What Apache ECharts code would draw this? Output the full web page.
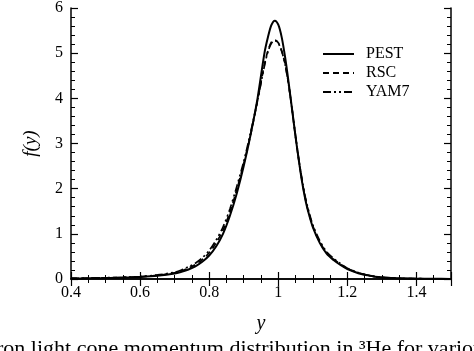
<!DOCTYPE html>
<html>
<head>
<meta charset="utf-8">
<script src="https://cdn.jsdelivr.net/npm/echarts@6/dist/echarts.min.js"></script>
<style>
  html, body { margin: 0; padding: 0; background: #fff; }
  #chart { width: 474px; height: 351px; }
</style>
</head>
<body>
<div id="chart"></div>
<script>
// light cone momentum fraction y
const yValues = [0.40, 0.45, 0.50, 0.55, 0.60, 0.65, 0.70, 0.72, 0.74, 0.76, 0.78, 0.80, 0.82, 0.84, 0.86, 0.88,
  0.90, 0.92, 0.94, 0.96, 0.97, 0.98, 0.99, 1.00, 1.01, 1.02, 1.03, 1.04, 1.05, 1.06, 1.07, 1.08, 1.09, 1.10,
  1.12, 1.14, 1.16, 1.18, 1.20, 1.22, 1.24, 1.26, 1.28, 1.30, 1.35, 1.40, 1.45, 1.50];

const pest = [0.01, 0.015, 0.02, 0.03, 0.045, 0.07, 0.12, 0.16, 0.21, 0.28, 0.38, 0.52, 0.72, 1.0, 1.4, 1.9,
  2.5, 3.2, 4.0, 5.0, 5.35, 5.62, 5.72, 5.63, 5.35, 4.9, 4.35, 3.75, 3.15, 2.6, 2.1, 1.7, 1.4, 1.15,
  0.8, 0.56, 0.42, 0.31, 0.22, 0.16, 0.11, 0.08, 0.05, 0.035, 0.015, 0.008, 0.004, 0.002];

const rsc = [0.012, 0.018, 0.025, 0.035, 0.05, 0.08, 0.135, 0.18, 0.24, 0.32, 0.43, 0.58, 0.8, 1.08, 1.48, 1.98,
  2.55, 3.2, 3.95, 4.75, 5.05, 5.24, 5.29, 5.23, 5.05, 4.75, 4.3, 3.75, 3.15, 2.6, 2.12, 1.72, 1.42, 1.17,
  0.82, 0.58, 0.44, 0.33, 0.23, 0.17, 0.12, 0.08, 0.05, 0.035, 0.015, 0.008, 0.004, 0.002];

const yam7 = [0.012, 0.02, 0.028, 0.04, 0.055, 0.09, 0.15, 0.2, 0.27, 0.35, 0.47, 0.63, 0.86, 1.15, 1.55, 2.05,
  2.6, 3.25, 3.95, 4.72, 5.03, 5.22, 5.28, 5.22, 5.04, 4.74, 4.3, 3.76, 3.17, 2.62, 2.15, 1.75, 1.45, 1.2,
  0.85, 0.6, 0.46, 0.34, 0.24, 0.17, 0.12, 0.085, 0.055, 0.035, 0.015, 0.008, 0.004, 0.002];

const seriesNames = ['PEST', 'RSC', 'YAM7'];

const serif = '"Liberation Serif", "DejaVu Serif", serif';
const pairs = (vals) => yValues.map((y, i) => [y, vals[i]]);

const chart = echarts.init(document.getElementById('chart'));

const axisBase = {
  type: 'value',
  axisLine: { show: true, lineStyle: { color: '#000', width: 1.5 } },
  axisTick: { show: true, inside: true, length: 7, lineStyle: { color: '#000', width: 1.2 } },
  minorTick: { show: true, length: 4, lineStyle: { color: '#000', width: 1 } },
  splitLine: { show: false },
  minorSplitLine: { show: false },
};

const xBase = Object.assign({}, axisBase, { min: 0.4, max: 1.5, interval: 0.2,
  minorTick: Object.assign({}, axisBase.minorTick, { splitNumber: 4 }) });
const yBase = Object.assign({}, axisBase, { min: 0, max: 6, interval: 1,
  minorTick: Object.assign({}, axisBase.minorTick, { splitNumber: 5 }) });

// legend icon: line only, no marker
const noMarker = { color: 'rgba(0,0,0,0)', borderWidth: 0 };

chart.setOption({
  animation: false,
  backgroundColor: '#fff',
  grid: { left: 71, right: 23, top: 5, bottom: 72 },
  legend: {
    orient: 'vertical',
    left: 317,
    top: 41,
    itemWidth: 31,
    itemHeight: 10,
    itemGap: 3,
    data: seriesNames,
    itemStyle: noMarker,
    textStyle: { fontFamily: serif, fontSize: 16, color: '#000', padding: [0, 0, 0, 7] },
  },
  xAxis: [
    Object.assign({}, xBase, {
      position: 'bottom',
      name: 'y',
      nameLocation: 'middle',
      nameGap: 35,
      nameTextStyle: { fontFamily: serif, fontStyle: 'italic', fontSize: 20, color: '#000' },
      axisLabel: { color: '#000', fontFamily: serif, fontSize: 16, margin: 6, showMaxLabel: false,
        formatter: (v) => (v > 1.45 ? '' : String(+v.toFixed(1))) },
    }),
    Object.assign({}, xBase, { position: 'top', axisLabel: { show: false } }),
  ],
  yAxis: [
    Object.assign({}, yBase, {
      position: 'left',
      name: 'f(y)',
      nameLocation: 'middle',
      nameGap: 31,
      nameTextStyle: { fontFamily: serif, fontStyle: 'italic', fontSize: 19, color: '#000' },
      axisLabel: { color: '#000', fontFamily: serif, fontSize: 16, margin: 8 },
    }),
    Object.assign({}, yBase, { position: 'right', axisLabel: { show: false } }),
  ],
  series: [
    {
      name: 'PEST', type: 'line', data: pairs(pest), smooth: 0.3, symbol: 'none',
      lineStyle: { color: '#000', width: 2, type: 'solid' }, itemStyle: noMarker,
    },
    {
      name: 'RSC', type: 'line', data: pairs(rsc), smooth: 0.3, symbol: 'none',
      lineStyle: { color: '#000', width: 1.7, type: [6, 4] }, itemStyle: noMarker,
    },
    {
      name: 'YAM7', type: 'line', data: pairs(yam7), smooth: 0.3, symbol: 'none',
      lineStyle: { color: '#000', width: 1.7, type: [8, 3, 2, 3, 2, 3] }, itemStyle: noMarker,
    },
  ],
  graphic: [
    {
      type: 'text',
      left: -4,
      top: 338,
      style: {
        text: 'ron light cone momentum distribution in \u00b3He for variou',
        font: '22px ' + serif,
        fill: '#000',
      },
    },
  ],
});

window.addEventListener('resize', () => chart.resize());
</script>
</body>
</html>
